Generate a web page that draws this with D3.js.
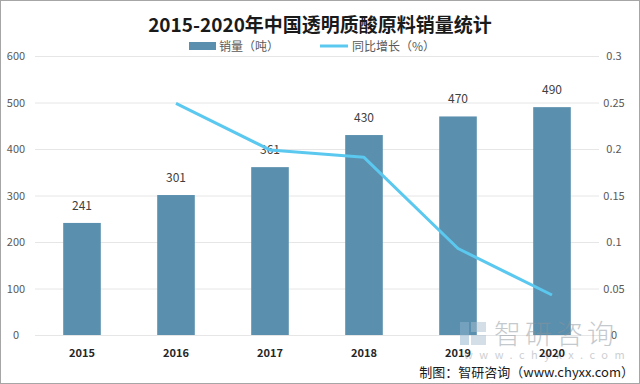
<!DOCTYPE html>
<html>
<head>
<meta charset="utf-8">
<script src="https://cdn.jsdelivr.net/npm/d3@7"></script>
<style>
  body { margin: 0; background: #fff; }
  svg { display: block; font-family: "Noto Sans CJK SC", "Noto Sans", sans-serif; }
</style>
</head>
<body>
<svg width="640" height="384"></svg>
<script>
const years = ["2015", "2016", "2017", "2018", "2019", "2020"];
const sales = [241, 301, 361, 430, 470, 490];
const growth = [null, 0.249, 0.199, 0.191, 0.093, 0.043];
const leftTicks = [0, 100, 200, 300, 400, 500, 600];
const rightTicks = [0, 0.05, 0.1, 0.15, 0.2, 0.25, 0.3];

const svg = d3.select("svg");
const width = +svg.attr("width");
const height = +svg.attr("height");

// frame
svg.append("rect")
    .attr("x", 0.5).attr("y", 0.5)
    .attr("width", width - 1).attr("height", height - 1)
    .attr("fill", "#fff").attr("stroke", "#a6a6a6");

const x = d3.scaleBand().domain(years).range([35, 599]).paddingInner(0.6).paddingOuter(0.3);
const y = d3.scaleLinear().domain([0, 600]).range([335, 56]);
const y2 = d3.scaleLinear().domain([0, 0.3]).range([335, 56]);

// gridlines
svg.append("g").selectAll("line")
    .data(leftTicks)
    .enter().append("line")
    .attr("x1", 35).attr("x2", 599)
    .attr("y1", d => y(d) + 0.5).attr("y2", d => y(d) + 0.5)
    .attr("stroke", "#e6e6e6");

// left axis labels
svg.append("g").selectAll("text")
    .data(leftTicks)
    .enter().append("text")
    .attr("x", 16).attr("y", d => y(d) + 4)
    .attr("text-anchor", "middle")
    .attr("font-size", 11).attr("fill", "#595959")
    .text(d => d);

// right axis labels
svg.append("g").selectAll("text")
    .data(rightTicks)
    .enter().append("text")
    .attr("x", 614).attr("y", d => y2(d) + 4)
    .attr("text-anchor", "middle")
    .attr("font-size", 11).attr("fill", "#595959")
    .text(d => d);

// bars
svg.append("g").selectAll("rect")
    .data(sales)
    .enter().append("rect")
    .attr("x", (d, i) => x(years[i]))
    .attr("y", d => y(d))
    .attr("width", x.bandwidth())
    .attr("height", d => y(0) - y(d))
    .attr("fill", "#5a8fae");

// bar value labels
svg.append("g").selectAll("text")
    .data(sales)
    .enter().append("text")
    .attr("x", (d, i) => x(years[i]) + x.bandwidth() / 2)
    .attr("y", d => y(d) - 13)
    .attr("text-anchor", "middle")
    .attr("font-size", 12).attr("fill", "#404040")
    .text(d => d);

// growth line
const line = d3.line()
    .defined(d => d[1] != null)
    .x(d => x(d[0]) + x.bandwidth() / 2)
    .y(d => y2(d[1]));

svg.append("path")
    .datum(years.map((yr, i) => [yr, growth[i]]))
    .attr("d", line)
    .attr("fill", "none")
    .attr("stroke", "#5bc8ef")
    .attr("stroke-width", 3)
    .attr("stroke-linejoin", "round");

// watermark (semi-transparent, sits over the plot like in the source)
const wm = svg.append("g").attr("opacity", 0.5);
wm.append("rect").attr("x", 460).attr("y", 322).attr("width", 9).attr("height", 23).attr("fill", "#8fb3cf");
wm.append("rect").attr("x", 471).attr("y", 322).attr("width", 15).attr("height", 10).attr("fill", "#a9bfd1");
wm.append("rect").attr("x", 471).attr("y", 335).attr("width", 15).attr("height", 10).attr("fill", "#a9bfd1");
wm.append("text")
    .attr("x", 494).attr("y", 344)
    .attr("font-size", 27).attr("font-weight", 300)
    .attr("letter-spacing", 4)
    .attr("fill", "#8a949c")
    .text("智研咨询");
wm.append("text")
    .attr("x", 464).attr("y", 359)
    .attr("font-size", 11)
    .attr("letter-spacing", 6.5)
    .attr("fill", "#9aa2a8")
    .text("www.chyxx.com");

// year labels
svg.append("g").selectAll("text")
    .data(years)
    .enter().append("text")
    .attr("x", d => x(d) + x.bandwidth() / 2)
    .attr("y", 357)
    .attr("text-anchor", "middle")
    .attr("font-size", 11).attr("font-weight", "bold").attr("fill", "#262626")
    .text(d => d);

// title
svg.append("text")
    .attr("x", 320).attr("y", 32)
    .attr("text-anchor", "middle")
    .attr("font-size", 19).attr("font-weight", "bold").attr("fill", "#1a1a1a")
    .text("2015-2020年中国透明质酸原料销量统计");

// legend
svg.append("rect").attr("x", 189).attr("y", 42).attr("width", 27).attr("height", 8).attr("fill", "#5a8fae");
svg.append("text").attr("x", 219).attr("y", 51)
    .attr("font-size", 12).attr("fill", "#595959").text("销量（吨）");
svg.append("line").attr("x1", 320).attr("x2", 348).attr("y1", 46).attr("y2", 46)
    .attr("stroke", "#5bc8ef").attr("stroke-width", 3);
svg.append("text").attr("x", 352).attr("y", 51)
    .attr("font-size", 12).attr("fill", "#595959").text("同比增长（%）");

// source
svg.append("text")
    .attr("x", 634).attr("y", 377)
    .attr("text-anchor", "end")
    .attr("font-size", 13).attr("fill", "#1a1a1a")
    .text("制图：智研咨询（www.chyxx.com）");
</script>
</body>
</html>
